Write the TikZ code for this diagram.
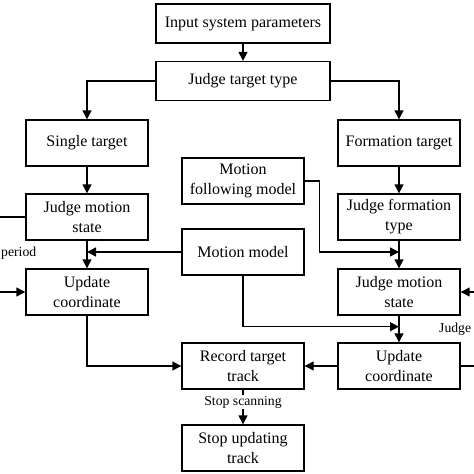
\documentclass[tikz,border=0pt]{standalone}
\usepackage{fontspec}
\setmainfont{Liberation Serif}
\usepackage{tikz}
\usetikzlibrary{arrows.meta,positioning}

\begin{document}
\begin{tikzpicture}[x=1pt,y=1pt,
  box/.style={draw, line width=1.4pt, minimum width=122pt, minimum height=46pt,
    align=center, inner sep=0pt, font=\fontsize{16}{20}\selectfont},
  widebox/.style={box, minimum width=174pt, minimum height=39pt},
  conn/.style={line width=1.4pt},
  arr/.style={conn, -{Triangle[length=9pt,width=9pt]}},
  lbl/.style={font=\fontsize{13.7}{15}\selectfont, inner sep=1pt}]
\useasboundingbox (0,0) rectangle (474,-474);
% boxes
\node [widebox] (in) at (243,-23.5) {Input system parameters};
\node [widebox] (jtt) at (243,-81) {Judge target type};
\node [box] (st) at (87,-143) {Single target};
\node [box] (ft) at (399,-143) {Formation target};
\node [box] (mfm) at (243,-181) {Motion\\following model};
\node [box] (jms1) at (87,-217) {Judge motion\\state};
\node [box] (jft) at (399,-217) {Judge formation\\type};
\node [box] (mm) at (243,-252) {Motion model};
\node [box] (uc1) at (87,-292) {Update\\coordinate};
\node [box] (jms2) at (399,-292) {Judge motion\\state};
\node [box] (rtt) at (243,-366) {Record target\\track};
\node [box] (uc2) at (399,-366) {Update\\coordinate};
\node [box] (sut) at (243,-448) {Stop updating\\track};
% cut-off ends at the borders
\coordinate (l1) at (0,-217);
\coordinate (l2) at (0,-292);
\coordinate (r1) at (474,-292);
\coordinate (r2) at (474,-366);
\node [lbl, anchor=west] (per) at (0,-253) {period};
\node [lbl, anchor=west] (jdg) at (438,-329) {Judge};
% connectors
\draw [arr] (in) -- (jtt);
\draw [arr] (jtt.west) -| (st);
\draw [arr] (jtt.east) -| (ft);
\draw [arr] (st) -- (jms1);
\draw [arr] (ft) -- (jft);
\draw [arr] (jft) -- (jms2);
\draw [arr] (jms1) -- (uc1);
\draw [arr] (jms2) -- (uc2);
\draw [arr] (mfm.east) -- ++(15,0) |- (mm -| jms2);
\draw [arr] (mm.west) -- (mm -| jms1);
\draw [arr] (mm.south) |- ([yshift=-11pt]jms2.south);
\draw [arr] (uc1.south) |- (rtt.west);
\draw [arr] (uc2.west) -- (rtt.east);
\draw [arr] (rtt.south) -- node [lbl, pos=0.36, fill=white] {Stop scanning} (sut.north);
\draw [conn] (jms1.west) -- (l1);
\draw [arr] (l2) -- (uc1.west);
\draw [arr] (r1) -- (jms2.east);
\draw [conn] (uc2.east) -- (r2);
\end{tikzpicture}
\end{document}
